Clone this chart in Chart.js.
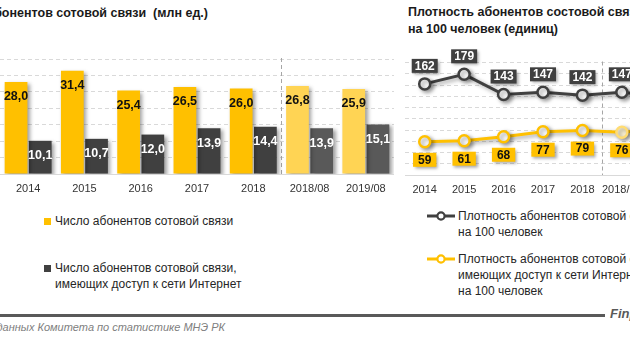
<!DOCTYPE html>
<html>
<head>
<meta charset="utf-8">
<script src="https://cdn.jsdelivr.net/npm/chart.js@4.4.1/dist/chart.umd.min.js"></script>
<style>
  html, body { margin:0; padding:0; background:#fff; }
  body { width:630px; height:337px; overflow:hidden; position:relative; font-family:"Liberation Sans", Arial, sans-serif; color:#262626; }
  .abs { position:absolute; white-space:nowrap; }
  .title { font-weight:bold; font-size:12.5px; color:#1a1a1a; line-height:17px; }
  .leg { font-size:12px; line-height:16px; color:#262626; }
  #c1wrap { position:absolute; left:0; top:40px; width:394px; height:154px; }
  #c2wrap { position:absolute; left:405px; top:40px; width:276px; height:155px; }
</style>
</head>
<body>
<div class="abs title" style="right:422px; top:5px;">Число абонентов сотовой связи&nbsp;&nbsp;(млн ед.)</div>
<div class="abs title" style="left:408px; top:4px;">Плотность абонентов состовой связи<br>на 100 человек (единиц)</div>

<div id="c1wrap"><canvas id="c1"></canvas></div>
<div id="c2wrap"><canvas id="c2"></canvas></div>

<div class="abs" style="left:44px; top:218px; width:7px; height:7px; background:#FFC000;"></div>
<div class="abs leg" style="left:55px; top:213px;">Число абонентов сотовой связи</div>
<div class="abs" style="left:44px; top:265px; width:7px; height:7px; background:#404040;"></div>
<div class="abs leg" style="left:55px; top:260px;">Число абонентов сотовой связи,<br>имеющих доступ к сети Интернет</div>

<svg class="abs" style="left:426px; top:210px;" width="30" height="12"><line x1="1" y1="6" x2="29" y2="6" stroke="#404040" stroke-width="3"/><circle cx="15" cy="6" r="3.6" fill="#fff" stroke="#404040" stroke-width="2.2"/></svg>
<div class="abs leg" style="left:458px; top:208px;">Плотность абонентов сотовой связи<br>на 100 человек</div>
<svg class="abs" style="left:426px; top:253px;" width="30" height="12"><line x1="1" y1="6" x2="29" y2="6" stroke="#FFC000" stroke-width="3"/><circle cx="15" cy="6" r="3.6" fill="#fff" stroke="#FFC000" stroke-width="2.2"/></svg>
<div class="abs leg" style="left:458px; top:251px;">Плотность абонентов сотовой связи,<br>имеющих доступ к сети Интернет<br>на 100 человек</div>

<div class="abs" style="left:0; top:314px; width:605px; height:3px; background:#595959;"></div>
<div class="abs" style="left:610px; top:306px; font-weight:bold; font-style:italic; font-size:13px; color:#595959;">Finprom.kz</div>
<div class="abs" style="right:405px; top:321px; font-style:italic; font-size:11px; color:#808080;">Источник: расчеты Finprom.kz на основе данных Комитета по статистике МНЭ РК</div>

<script>
// ---- data ----
const categories = ["2014", "2015", "2016", "2017", "2018", "2018/08", "2019/08"];
const subscribers = [28.0, 31.4, 25.4, 26.5, 26.0, 26.8, 25.9];
const internetSubscribers = [10.1, 10.7, 12.0, 13.9, 14.4, 13.9, 15.1];
const density = [162, 179, 143, 147, 142, 147, 140];
const internetDensity = [59, 61, 68, 77, 79, 76, 82];
const barTicks = [0, 5, 10, 15, 20, 25, 30, 35];
const lineTicks = [0, 20, 40, 60, 80, 100, 120, 140, 160, 180, 200];

const YEL = '#FFC000', YEL_L = '#FFD454', DARK = '#404040', DARK_L = '#595959';
const isPartial = i => i >= 5;

const shadowPlugin = {
  id: 'shadow',
  beforeDatasetsDraw(chart) {
    const ctx = chart.ctx;
    ctx.save();
    ctx.shadowColor = 'rgba(0,0,0,0.38)';
    ctx.shadowBlur = 4;
    ctx.shadowOffsetX = 2.5;
    ctx.shadowOffsetY = 2;
  },
  afterDatasetsDraw(chart) { chart.ctx.restore(); }
};

const sepPlugin = {
  id: 'sep',
  beforeDatasetsDraw(chart) {
    const x = chart.scales.x, y = chart.scales.y, ctx = chart.ctx;
    const px = Math.round((x.getPixelForValue(4) + x.getPixelForValue(5)) / 2) + 0.5;
    ctx.save();
    ctx.strokeStyle = '#a6a6a6';
    ctx.lineWidth = 1;
    ctx.setLineDash([4, 3]);
    ctx.beginPath();
    ctx.moveTo(px, y.getPixelForValue(y.max) - 1);
    ctx.lineTo(px, y.getPixelForValue(0));
    ctx.stroke();
    ctx.restore();
  }
};

const barLabelPlugin = {
  id: 'barLabels',
  afterDatasetsDraw(chart) {
    const ctx = chart.ctx;
    ctx.save();
    ctx.font = 'bold 12.5px "Liberation Sans", Arial, sans-serif';
    ctx.textAlign = 'center';
    ctx.textBaseline = 'middle';
    chart.data.datasets.forEach((ds, di) => {
      chart.getDatasetMeta(di).data.forEach((el, i) => {
        const txt = ds.data[i].toFixed(1).replace('.', ',');
        ctx.fillStyle = di === 0 ? '#111' : '#fff';
        ctx.fillText(txt, el.x, el.y + 15);
      });
    });
    ctx.restore();
  }
};

const lineLabelPlugin = {
  id: 'lineLabels',
  afterDatasetsDraw(chart) {
    const ctx = chart.ctx;
    ctx.save();
    ctx.font = 'bold 12px "Liberation Sans", Arial, sans-serif';
    ctx.textAlign = 'center';
    ctx.textBaseline = 'middle';
    chart.data.datasets.forEach((ds, di) => {
      chart.getDatasetMeta(di).data.forEach((el, i) => {
        const txt = String(ds.data[i]);
        const w = ctx.measureText(txt).width + (di === 0 ? 6 : 10);
        const h = 14;
        const cy = di === 0 ? el.y - 18 : el.y + 18;
        ctx.save();
        ctx.shadowColor = 'rgba(0,0,0,0.35)';
        ctx.shadowBlur = 3;
        ctx.shadowOffsetX = 2;
        ctx.shadowOffsetY = 2;
        ctx.fillStyle = di === 0 ? DARK : YEL;
        ctx.fillRect(el.x - w / 2, cy - h / 2, w, h);
        ctx.restore();
        ctx.fillStyle = di === 0 ? '#fff' : '#111';
        ctx.fillText(txt, el.x, cy + 0.5);
      });
    });
    ctx.restore();
  }
};

const tickFont = { family: '"Liberation Sans", Arial, sans-serif', size: 11 };
const xTicks = { color: '#333', font: tickFont, padding: 8, maxRotation: 0, minRotation: 0, autoSkip: false };
const fixX = s => { s.height = 20; s.paddingLeft = 0; s.paddingRight = 0; };

new Chart(document.getElementById('c1'), {
  type: 'bar',
  data: {
    labels: categories,
    datasets: [
      { data: subscribers, backgroundColor: subscribers.map((v, i) => isPartial(i) ? YEL_L : YEL), categoryPercentage: 0.86, barPercentage: 0.94 },
      { data: internetSubscribers, backgroundColor: internetSubscribers.map((v, i) => isPartial(i) ? DARK_L : DARK), categoryPercentage: 0.86, barPercentage: 0.94 }
    ]
  },
  options: {
    responsive: true, maintainAspectRatio: false, animation: false,
    layout: { autoPadding: false, padding: { top: 19, left: 0, right: 0, bottom: 0 } },
    plugins: { legend: { display: false }, tooltip: { enabled: false } },
    scales: {
      x: {
        grid: { color: 'rgba(0,0,0,0)', drawTicks: false },
        border: { display: true, color: '#d9d9d9', width: 1 },
        ticks: xTicks,
        afterFit: fixX
      },
      y: {
        min: 0, max: 35,
        afterBuildTicks(s) { s.ticks = barTicks.map(v => ({ value: v })); },
        ticks: { display: false },
        grid: { color: '#d9d9d9', drawTicks: false },
        border: { display: false, dash: [4, 3] },
        afterFit(s) { s.width = 0; s.paddingTop = 0; s.paddingBottom = 0; }
      }
    }
  },
  plugins: [sepPlugin, shadowPlugin, barLabelPlugin]
});

new Chart(document.getElementById('c2'), {
  type: 'line',
  data: {
    labels: categories,
    datasets: [
      { data: density, borderColor: DARK, borderWidth: 3, pointRadius: 5.5, pointBorderWidth: 2.5,
        pointBackgroundColor: '#fff', pointBorderColor: DARK, tension: 0, clip: false },
      { data: internetDensity, borderColor: YEL, borderWidth: 3, pointRadius: 5.5, pointBorderWidth: 2.5,
        pointBackgroundColor: internetDensity.map((v, i) => isPartial(i) ? '#FFF6D6' : '#fff'),
        pointBorderColor: internetDensity.map((v, i) => isPartial(i) ? '#FFDC73' : YEL), tension: 0, clip: false }
    ]
  },
  options: {
    responsive: true, maintainAspectRatio: false, animation: false,
    layout: { autoPadding: false, padding: { top: 22.5, left: 0, right: 0, bottom: 0 } },
    plugins: { legend: { display: false }, tooltip: { enabled: false } },
    scales: {
      x: {
        offset: true,
        grid: { color: 'rgba(0,0,0,0)', drawTicks: false, offset: true },
        border: { display: true, color: '#d9d9d9', width: 1 },
        ticks: xTicks,
        afterFit: fixX
      },
      y: {
        min: 0, max: 200,
        afterBuildTicks(s) { s.ticks = lineTicks.map(v => ({ value: v })); },
        ticks: { display: false },
        grid: { color: '#d9d9d9', drawTicks: false },
        border: { display: false, dash: [4, 3] },
        afterFit(s) { s.width = 0; s.paddingTop = 0; s.paddingBottom = 0; }
      }
    }
  },
  plugins: [sepPlugin, shadowPlugin, lineLabelPlugin]
});
</script>
</body>
</html>
